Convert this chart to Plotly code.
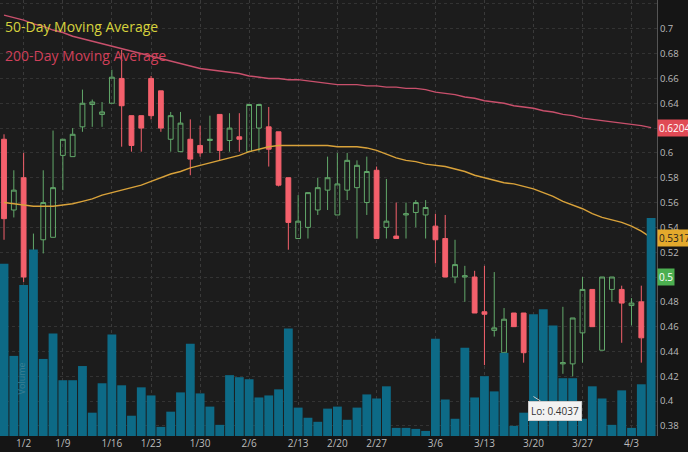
import plotly.graph_objects as go

# daily candles, Jan 2 .. Apr 4 (index based)
opens = [0.611, 0.554, 0.580, 0.506, 0.530, 0.532, 0.598, 0.597, 0.621, 0.639, 0.631, 0.640, 0.660,
         0.630, 0.630, 0.660, 0.650, 0.611, 0.601, 0.611, 0.606, 0.610, 0.631, 0.610, 0.613, 0.601, 0.620,
         0.621, 0.617, 0.580, 0.531, 0.540, 0.554, 0.570, 0.550, 0.570, 0.572, 0.560, 0.586, 0.540, 0.533,
         0.550, 0.552, 0.550, 0.541, 0.531, 0.500, 0.500, 0.500, 0.472, 0.457, 0.439, 0.471, 0.471, 0.450,
         0.411, 0.434, 0.430, 0.430, 0.455, 0.490, 0.441, 0.490, 0.490, 0.477, 0.480, 0.452]
highs = [0.615, 0.586, 0.600, 0.535, 0.586, 0.618, 0.611, 0.620, 0.651, 0.643, 0.641, 0.667, 0.683,
         0.630, 0.630, 0.662, 0.650, 0.633, 0.633, 0.627, 0.622, 0.630, 0.631, 0.632, 0.632, 0.639, 0.639,
         0.637, 0.617, 0.580, 0.566, 0.568, 0.580, 0.597, 0.600, 0.600, 0.594, 0.597, 0.589, 0.579, 0.560,
         0.560, 0.562, 0.562, 0.551, 0.550, 0.530, 0.509, 0.505, 0.509, 0.504, 0.475, 0.471, 0.471, 0.450,
         0.451, 0.443, 0.476, 0.467, 0.500, 0.490, 0.500, 0.500, 0.493, 0.483, 0.493, 0.515]
lows = [0.530, 0.548, 0.496, 0.500, 0.519, 0.532, 0.570, 0.597, 0.617, 0.621, 0.621, 0.640, 0.605,
        0.601, 0.601, 0.627, 0.617, 0.601, 0.601, 0.582, 0.597, 0.600, 0.594, 0.601, 0.601, 0.601, 0.601,
        0.589, 0.573, 0.522, 0.531, 0.531, 0.550, 0.554, 0.550, 0.562, 0.531, 0.550, 0.531, 0.531, 0.531,
        0.531, 0.540, 0.531, 0.511, 0.500, 0.495, 0.480, 0.471, 0.429, 0.452, 0.435, 0.460, 0.431, 0.4037,
        0.410, 0.411, 0.422, 0.420, 0.431, 0.460, 0.441, 0.480, 0.447, 0.461, 0.431, 0.447]
closes = [0.547, 0.570, 0.500, 0.516, 0.560, 0.572, 0.611, 0.615, 0.640, 0.641, 0.633, 0.661, 0.638,
          0.606, 0.620, 0.630, 0.620, 0.630, 0.624, 0.595, 0.600, 0.611, 0.602, 0.620, 0.611, 0.639, 0.639,
          0.603, 0.574, 0.544, 0.545, 0.568, 0.572, 0.580, 0.575, 0.594, 0.590, 0.585, 0.531, 0.545, 0.531,
          0.551, 0.560, 0.556, 0.530, 0.500, 0.510, 0.501, 0.471, 0.470, 0.459, 0.466, 0.460, 0.439, 0.421,
          0.430, 0.420, 0.431, 0.467, 0.490, 0.460, 0.500, 0.500, 0.479, 0.479, 0.451, 0.500]
volumes = [1700, 790, 1490, 1840, 760, 1010, 550, 550, 690, 230, 520, 1000, 500, 200, 480, 400, 90,
           240, 430, 910, 420, 290, 110, 600, 580, 560, 380, 400, 460, 1060, 280, 180, 140, 270, 290,
           160, 280, 410, 370, 490, 80, 80, 70, 50, 960, 360, 170, 870, 380, 590, 440, 820, 100, 230,
           1200, 1250, 1090, 570, 570, 170, 490, 370, 110, 450, 80, 510, 2150]
ma50 = [0.560, 0.559, 0.558, 0.557, 0.557, 0.557, 0.558, 0.559, 0.561, 0.563, 0.566, 0.568, 0.570,
        0.572, 0.574, 0.577, 0.580, 0.583, 0.585, 0.588, 0.590, 0.592, 0.594, 0.596, 0.598, 0.601, 0.603,
        0.605, 0.606, 0.606, 0.606, 0.606, 0.606, 0.606, 0.605, 0.605, 0.605, 0.604, 0.602, 0.599, 0.596,
        0.594, 0.593, 0.591, 0.590, 0.589, 0.587, 0.585, 0.582, 0.580, 0.578, 0.576, 0.575, 0.573, 0.571,
        0.568, 0.565, 0.561, 0.558, 0.555, 0.551, 0.548, 0.546, 0.544, 0.541, 0.537, 0.5317]
ma200 = [0.711, 0.709, 0.707, 0.704, 0.702, 0.699, 0.697, 0.694, 0.692, 0.690, 0.688, 0.686, 0.684,
         0.682, 0.680, 0.678, 0.676, 0.674, 0.672, 0.670, 0.668, 0.667, 0.666, 0.665, 0.664, 0.662, 0.661,
         0.660, 0.660, 0.659, 0.659, 0.658, 0.657, 0.656, 0.655, 0.655, 0.655, 0.654, 0.654, 0.653, 0.653,
         0.652, 0.652, 0.651, 0.649, 0.648, 0.647, 0.645, 0.644, 0.642, 0.641, 0.640, 0.638, 0.637, 0.636,
         0.634, 0.633, 0.631, 0.630, 0.628, 0.627, 0.626, 0.625, 0.624, 0.623, 0.622, 0.6204]
tick_pos = [2, 6, 11, 15, 20, 25, 30, 34, 38, 44, 49, 54, 59, 64]
tick_text = ['1/2', '1/9', '1/16', '1/23', '1/30', '2/6', '2/13', '2/20', '2/27', '3/6', '3/13',
             '3/20', '3/27', '4/3']
price_ticks = [0.38, 0.4, 0.42, 0.44, 0.46, 0.48, 0.5, 0.52, 0.54, 0.56, 0.58, 0.6, 0.62, 0.64,
               0.66, 0.68, 0.7, 0.72]

x = list(range(len(closes)))
red = '#f4606c'
green = '#62a86a'

fig = go.Figure()
fig.add_trace(go.Bar(x=x, y=volumes, yaxis='y2', marker=dict(color='#0d6a86', line=dict(width=0)),
                     width=0.9, hoverinfo='skip'))
fig.add_trace(go.Scatter(x=x, y=ma200, mode='lines', line=dict(color='#c9506c', width=1.4)))
fig.add_trace(go.Scatter(x=x, y=ma50, mode='lines', line=dict(color='#d9a23a', width=1.4)))
fig.add_trace(go.Candlestick(x=x, open=opens, high=highs, low=lows, close=closes,
                             increasing=dict(line=dict(color=green, width=1), fillcolor='rgba(0,0,0,0)'),
                             decreasing=dict(line=dict(color=red, width=1), fillcolor=red),
                             whiskerwidth=0))

fig.update_layout(
    width=688, height=452, showlegend=False,
    margin=dict(l=0, r=31, t=0, b=16, autoexpand=False),
    paper_bgcolor='#151515', plot_bgcolor='#1c1c1c',
    font=dict(family='Open Sans', color='#bbbbbb', size=10),
    xaxis=dict(range=[-0.41, 66.6], tickvals=tick_pos, ticktext=tick_text, rangeslider=dict(visible=False),
               showgrid=True, gridcolor='#3a3a3a', griddash='dot', zeroline=False, ticks='',
               automargin=False, tickfont=dict(size=10, color='#bbbbbb')),
    yaxis=dict(range=[0.3719, 0.7232], side='right', tickvals=price_ticks, automargin=False,
               ticktext=[f'{v:g}' for v in price_ticks], showgrid=True, gridcolor='#333333',
               griddash='dot', zeroline=False, showline=True, linecolor='#555555', ticks='',
               tickfont=dict(size=9.5)),
    yaxis2=dict(range=[0, 4300], overlaying='y', visible=False),
)
fig.add_annotation(x=0.005, y=0.965, xref='paper', yref='paper', xanchor='left', showarrow=False,
                   text='50-Day Moving Average', font=dict(color='#d6d23c', size=14))
fig.add_annotation(x=0.005, y=0.9, xref='paper', yref='paper', xanchor='left', showarrow=False,
                   text='200-Day Moving Average', font=dict(color='#d0405a', size=14))
fig.add_annotation(x=0.02, y=0.09, xref='paper', yref='paper', showarrow=False, textangle=-90,
                   text='Volume', font=dict(color='#3b7f93', size=9))
for val, txt, col, fcol in [(ma200[-1], '0.6204', '#e04a55', '#ffffff'),
                            (ma50[-1], '0.5317', '#e3a92c', '#1c1c1c'),
                            (closes[-1], '0.5', '#4caf50', '#ffffff')]:
    fig.add_annotation(x=1.0, y=val, xref='paper', yref='y', xanchor='left', showarrow=False,
                       text=txt, bgcolor=col, font=dict(color=fcol, size=10), borderpad=1)
fig.add_annotation(x=54, y=min(lows), text='Lo: 0.4037', showarrow=True, arrowhead=0, arrowcolor='#cccccc',
                   ax=22, ay=14, bgcolor='#f2f2f2', font=dict(color='#333333', size=10),
                   bordercolor='#cccccc', borderpad=2)

fig.write_html("out.html", config={'displayModeBar': False},
               post_script="document.body.style.margin='0';document.body.style.overflow='hidden';")
